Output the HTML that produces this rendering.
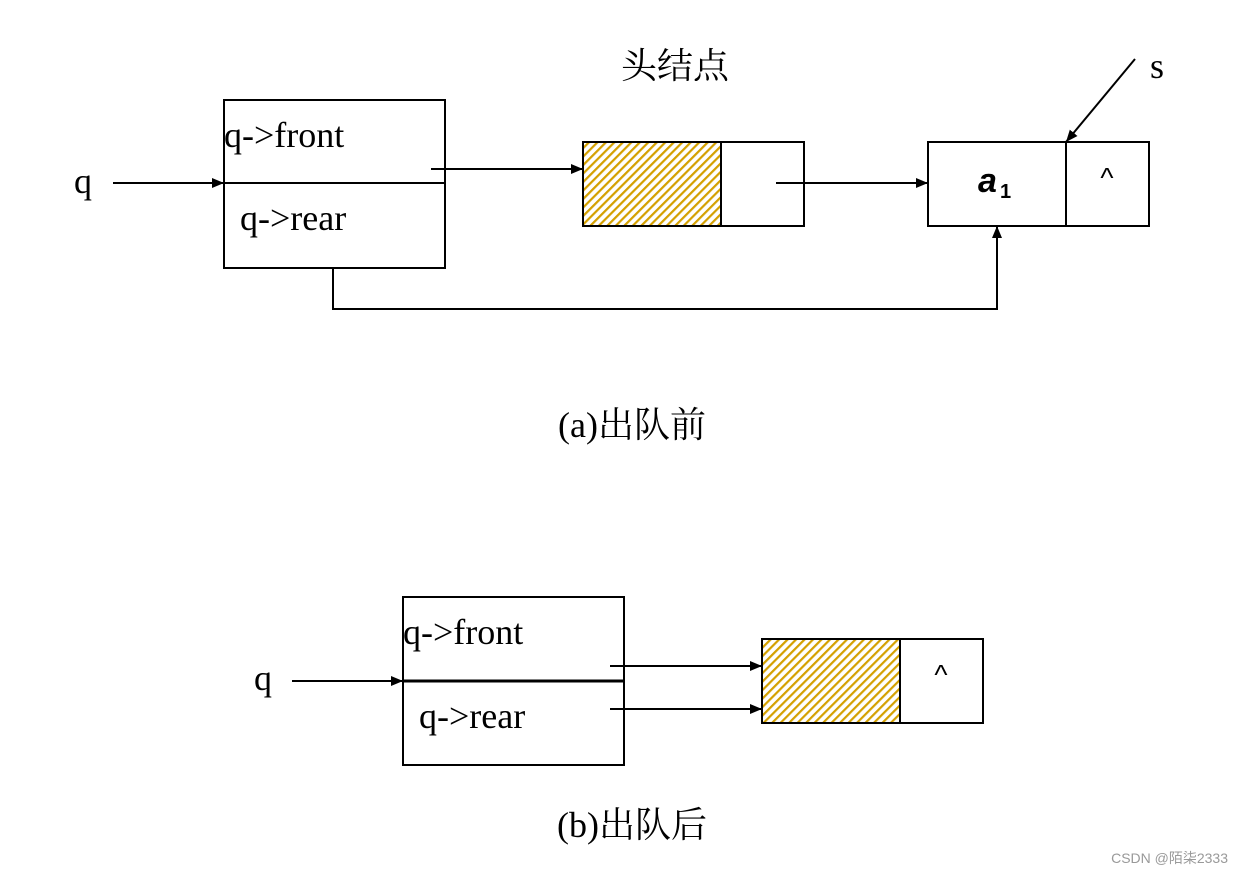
<!DOCTYPE html>
<html><head><meta charset="utf-8"><style>
body{margin:0;background:#fff;}
svg{display:block;}
.t{font-family:"Liberation Serif","Noto Serif CJK SC",serif;fill:#000;}
</style></head><body>
<svg width="1243" height="874" viewBox="0 0 1243 874" xmlns="http://www.w3.org/2000/svg">
<defs>
<pattern id="h" patternUnits="userSpaceOnUse" width="6" height="6" patternTransform="rotate(45)">
<rect width="6" height="6" fill="#fff"/>
<rect x="0" y="0" width="2.2" height="6" fill="#d4a000"/>
</pattern>
<marker id="a" markerWidth="12" markerHeight="10" refX="12" refY="5" orient="auto" markerUnits="userSpaceOnUse">
<path d="M0,0 L12,5 L0,10 Z" fill="#000"/>
</marker>
</defs>
<g stroke="#000" stroke-width="2" fill="none">
<!-- top -->
<rect x="224" y="100" width="221" height="168"/>
<line x1="224" y1="183" x2="445" y2="183"/>
<line x1="113" y1="183" x2="224" y2="183" marker-end="url(#a)"/>
<line x1="431" y1="169" x2="583" y2="169" marker-end="url(#a)"/>
<rect x="583" y="142" width="138" height="84" fill="url(#h)"/>
<rect x="721" y="142" width="83" height="84"/>
<line x1="776" y1="183" x2="928" y2="183" marker-end="url(#a)"/>
<rect x="928" y="142" width="221" height="84"/>
<line x1="1066" y1="142" x2="1066" y2="226"/>
<line x1="1135" y1="59" x2="1066" y2="142" marker-end="url(#a)"/>
<polyline points="333,268 333,309 997,309 997,226" marker-end="url(#a)"/>
<!-- bottom -->
<rect x="403" y="597" width="221" height="168"/>
<line x1="403" y1="681" x2="624" y2="681" stroke-width="3"/>
<line x1="292" y1="681" x2="403" y2="681" marker-end="url(#a)"/>
<line x1="610" y1="666" x2="762" y2="666" marker-end="url(#a)"/>
<line x1="610" y1="709" x2="762" y2="709" marker-end="url(#a)"/>
<rect x="762" y="639" width="138" height="84" fill="url(#h)"/>
<rect x="900" y="639" width="83" height="84"/>
</g>
<g class="t">
<text x="675" y="78" font-size="36" text-anchor="middle">头结点</text>
<text x="74" y="193" font-size="36">q</text>
<text x="224" y="147" font-size="36">q-&gt;front</text>
<text x="240" y="230" font-size="36">q-&gt;rear</text>
<text x="1150" y="78" font-size="36">s</text>
<text x="978" y="192" font-size="34" font-style="italic" font-weight="bold" font-family="Liberation Sans,sans-serif">a</text>
<text x="1000" y="198" font-size="20" font-weight="bold" font-family="Liberation Sans,sans-serif">1</text>
<text x="1107" y="187" font-size="28" text-anchor="middle" font-family="Liberation Sans,sans-serif">^</text>
<text x="632" y="437" font-size="36" text-anchor="middle">(a)出队前</text>
<text x="254" y="690" font-size="36">q</text>
<text x="403" y="644" font-size="36">q-&gt;front</text>
<text x="419" y="728" font-size="36">q-&gt;rear</text>
<text x="941" y="684" font-size="28" text-anchor="middle" font-family="Liberation Sans,sans-serif">^</text>
<text x="632" y="837" font-size="36" text-anchor="middle">(b)出队后</text>
</g>
<text x="1228" y="863" font-size="14" fill="#999" text-anchor="end" font-family="Liberation Sans,'Noto Sans CJK SC',sans-serif">CSDN @陌柒2333</text>
</svg>
</body></html>
